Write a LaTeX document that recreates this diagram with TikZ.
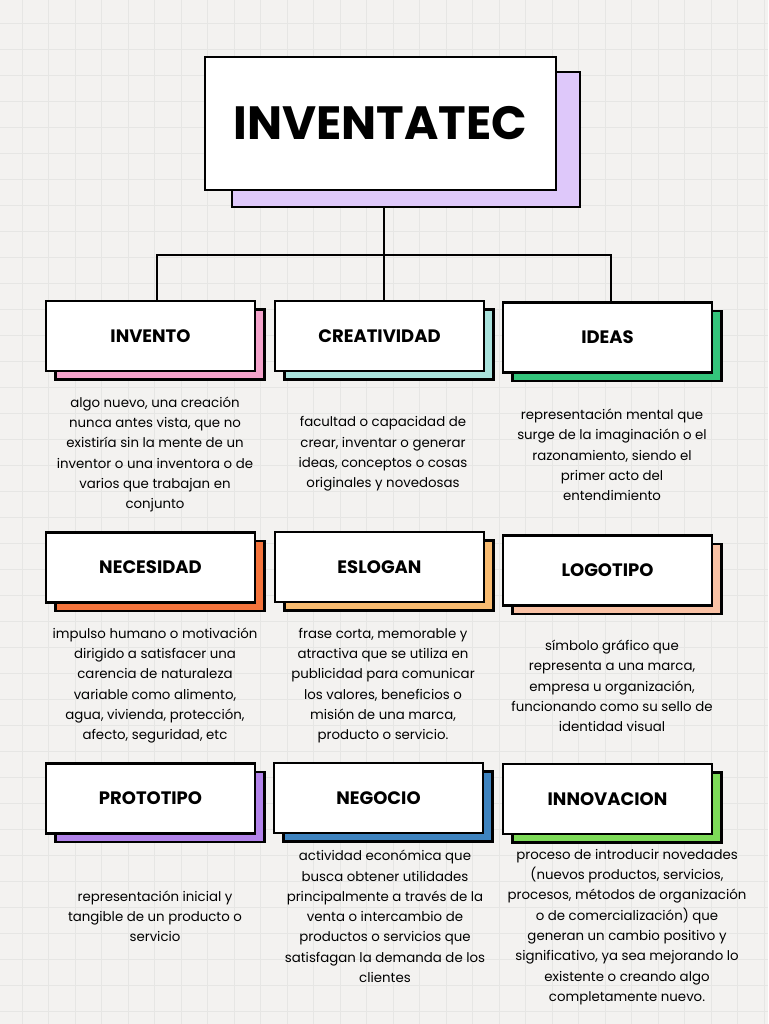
\documentclass[tikz,border=0pt]{standalone}
\usepackage{fontspec}
\setmainfont{Poppins}
\definecolor{bgc}{HTML}{F3F2F0}
\definecolor{gridc}{HTML}{E6E6E4}
\definecolor{lav}{HTML}{DEC8FA}
\definecolor{pinkc}{HTML}{F4A3CB}
\definecolor{tealc}{HTML}{A9E2DC}
\definecolor{greenc}{HTML}{33C47B}
\definecolor{orangec}{HTML}{F4733B}
\definecolor{lorange}{HTML}{F8BB70}
\definecolor{salmon}{HTML}{F9C1A4}
\definecolor{purplec}{HTML}{B283EA}
\definecolor{bluec}{HTML}{3E83BF}
\definecolor{limec}{HTML}{7DDA58}
\tikzset{
  front/.style={draw=black, fill=white, line width=1.9pt, minimum width=156.75pt, minimum height=52.5pt, inner sep=0pt, font=\fontsize{13.5}{16}\selectfont\bfseries},
  shadowbox/.style={draw=black, fill=#1, line width=1.9pt, minimum width=156.75pt, minimum height=52.5pt, inner sep=0pt},
  desc/.style={align=center, font=\fontsize{10}{15.2}\selectfont, inner sep=0pt},
  conn/.style={line width=1.5pt, draw=black}
}
\begin{document}
\begin{tikzpicture}[x=0.75pt,y=-0.75pt]
\useasboundingbox (0,0) rectangle (768,1024);
\fill[bgc] (0,0) rectangle (768,1024);
\foreach \i in {0,...,29} {
  \draw[gridc, line width=0.5pt] ({22+26.5*\i},0) -- ({22+26.5*\i},1024);
}
\foreach \j in {0,...,39} {
  \draw[gridc, line width=0.5pt] (0,{23+26*\j}) -- (768,{23+26*\j});
}
% title
\node[draw=black, fill=lav, line width=1.9pt, minimum width=261pt, minimum height=101.25pt, inner sep=0pt] (tsh) at (406,139.5) {};
\node[draw=black, fill=white, line width=1.9pt, minimum width=263.25pt, minimum height=99.75pt, inner sep=0pt, font=\fontsize{35}{38}\selectfont\bfseries] (title) at (380.5,123.5) {INVENTATEC};
% connectors
\coordinate (hub) at (384,255);
% row 1
\node[shadowbox=pinkc] (s1) at (160,344.5) {};
\node[front] (b1) at (150.5,336) {INVENTO};
\node[shadowbox=tealc] (s2) at (389,344.5) {};
\node[front] (b2) at (379.5,336) {CREATIVIDAD};
\node[shadowbox=greenc] (s3) at (617,346) {};
\node[front] (b3) at (607.5,337.5) {IDEAS};
\draw[conn] (tsh.south -| hub) -- (hub);
\draw[conn] ([xshift=4.9pt]b1.north) |- (hub) -| ([xshift=2.6pt]b3.north);
\draw[conn] (hub) -- (hub |- b2.north);
% row 2
\node[shadowbox=orangec] (s4) at (160,576) {};
\node[front] (b4) at (150.5,567.5) {NECESIDAD};
\node[shadowbox=lorange] (s5) at (389,575.5) {};
\node[front] (b5) at (379.5,567) {ESLOGAN};
\node[shadowbox=salmon] (s6) at (617,579) {};
\node[front] (b6) at (607.5,570.5) {LOGOTIPO};
% row 3
\node[shadowbox=purplec] (s7) at (160,807) {};
\node[front] (b7) at (150.5,798.5) {PROTOTIPO};
\node[shadowbox=bluec] (s8) at (388,806.5) {};
\node[front] (b8) at (378.5,798) {NEGOCIO};
\node[shadowbox=limec] (s9) at (617,807.5) {};
\node[front] (b9) at (607.5,799) {INNOVACION};
% descriptions
\node[desc] (d1) at (155,454.5) {algo nuevo, una creación\\nunca antes vista, que no\\existiría sin la mente de un\\inventor o una inventora o de\\varios que trabajan en\\conjunto};
\node[desc] (d2) at (383,454) {facultad o capacidad de\\crear, inventar o generar\\ideas, conceptos o cosas\\originales y novedosas};
\node[desc] (d3) at (612,455) {representación mental que\\surge de la imaginación o el\\razonamiento, siendo el\\primer acto del\\entendimiento};
\node[desc] (d4) at (155,685.5) {impulso humano o motivación\\dirigido a satisfacer una\\carencia de naturaleza\\variable como alimento,\\agua, vivienda, protección,\\afecto, seguridad, etc};
\node[desc] (d5) at (383,685.5) {frase corta, memorable y\\atractiva que se utiliza en\\publicidad para comunicar\\los valores, beneficios o\\misión de una marca,\\producto o servicio.};
\node[desc] (d6) at (612,686) {símbolo gráfico que\\representa a una marca,\\empresa u organización,\\funcionando como su sello de\\identidad visual};
\node[desc] (d7) at (155,916.5) {representación inicial y\\tangible de un producto o\\servicio};
\node[desc] (d8) at (385,916.5) {actividad económica que\\busca obtener utilidades\\principalmente a través de la\\venta o intercambio de\\productos o servicios que\\satisfagan la demanda de los\\clientes};
\node[desc] (d9) at (627,927) {proceso de introducir novedades\\(nuevos productos, servicios,\\procesos, métodos de organización\\o de comercialización) que\\generan un cambio positivo y\\significativo, ya sea mejorando lo\\existente o creando algo\\completamente nuevo.};
\end{tikzpicture}
\end{document}
